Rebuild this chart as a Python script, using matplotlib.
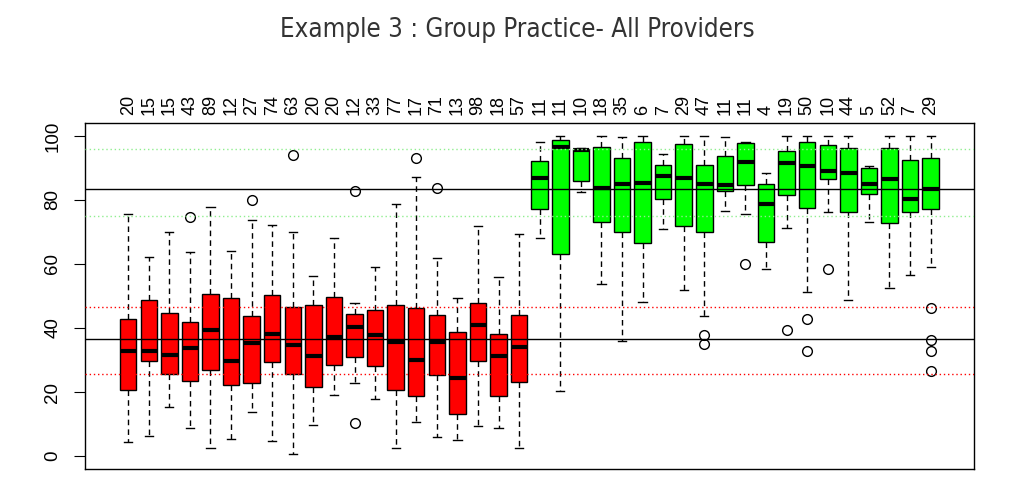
import matplotlib
matplotlib.use("Agg")
import matplotlib.pyplot as plt

# counts shown on top of each box
counts = [20, 15, 15, 43, 89, 12, 27, 74, 63, 20, 20, 12, 33, 77, 17, 71, 13, 98, 18, 57,
          11, 11, 10, 18, 35, 6, 7, 29, 47, 11, 11, 4, 19, 50, 10, 44, 5, 52, 7, 29]

# box stats (red group then green group)
whislo = [4.3, 6.4, 15.2, 8.7, 2.6, 5.5, 13.7, 4.7, 0.7, 9.7, 19.0, 23.0, 18.0, 2.6, 10.8, 6.1, 5.2, 9.3, 8.7, 2.6,
          68.0, 20.5, 82.6, 53.8, 35.9, 48.1, 71.0, 52.0, 43.8, 76.4, 75.6, 58.4, 71.3, 51.3, 76.3, 48.8, 73.2, 52.6, 56.7, 59.1]
q1 = [20.8, 29.6, 25.5, 23.6, 26.8, 22.3, 23.0, 29.4, 25.6, 21.5, 28.4, 30.9, 28.1, 20.8, 18.7, 25.3, 13.3, 29.7, 18.7, 23.1,
      77.1, 63.2, 85.9, 73.0, 69.9, 66.4, 80.4, 71.7, 69.9, 82.9, 84.6, 67.0, 81.6, 77.4, 86.4, 76.3, 81.9, 72.8, 76.1, 77.1]
med = [32.7, 32.7, 31.7, 33.7, 39.5, 29.8, 35.2, 38.1, 34.6, 31.3, 37.2, 40.4, 37.8, 35.5, 30.1, 35.5, 24.4, 40.9, 31.3, 34.1,
       86.8, 96.5, 95.6, 83.8, 85.0, 85.4, 87.4, 86.8, 85.0, 84.6, 91.8, 78.8, 91.4, 90.6, 89.0, 88.4, 85.0, 86.4, 80.4, 83.3]
q3 = [42.7, 48.8, 44.8, 41.9, 50.6, 49.4, 43.8, 50.2, 46.5, 47.3, 49.7, 44.5, 45.5, 47.3, 46.3, 44.1, 38.7, 47.7, 38.0, 44.1,
      92.2, 98.7, 96.0, 96.4, 93.2, 98.2, 90.9, 97.5, 90.9, 93.8, 97.9, 85.0, 95.3, 98.2, 97.1, 96.1, 90.0, 96.1, 92.5, 93.2]
whishi = [75.5, 62.3, 69.9, 63.8, 77.8, 64.1, 73.7, 72.3, 69.9, 56.2, 68.0, 47.7, 59.1, 78.7, 87.0, 61.9, 49.4, 71.7, 55.8, 69.5,
          98.2, 100, 96.3, 100, 99.6, 100, 94.2, 100, 100, 99.6, 98.1, 88.4, 100, 100, 100, 100, 90.7, 100, 100, 100]
fliers = [[], [], [], [74.6], [], [], [80.0], [], [93.9], [], [], [82.8, 10.4], [], [], [93.2], [83.6], [], [], [], [],
          [], [], [], [], [], [], [], [], [37.9, 35.1], [], [59.9], [], [39.4], [42.7, 32.9], [58.4], [], [], [], [], [46.2, 36.3, 32.9, 26.5]]
colors = ["#FF0000"] * 20 + ["#00FF00"] * 20

# reference lines
black_lines = [83.3, 36.5]
green_lines = [95.8, 75.0]
red_lines = [46.5, 25.5]

stats = []
for i in range(len(counts)):
    stats.append(dict(whislo=whislo[i], q1=q1[i], med=med[i], q3=q3[i],
                      whishi=whishi[i], fliers=fliers[i]))

fig = plt.figure(figsize=(10.24, 5.0), dpi=100)
ax = fig.add_axes([0.083, 0.062, 0.868, 0.692])

pos = list(range(1, len(counts) + 1))
bp = ax.bxp(stats, positions=pos, widths=0.8, patch_artist=True,
            boxprops=dict(edgecolor="black", linewidth=1),
            medianprops=dict(color="black", linewidth=3, solid_capstyle="butt"),
            whiskerprops=dict(color="black", linewidth=1, linestyle=(0, (4, 3))),
            capprops=dict(color="black", linewidth=1),
            capwidths=0.4,
            flierprops=dict(marker="o", markerfacecolor="none", markeredgecolor="black",
                            markersize=7, markeredgewidth=1))
for patch, c in zip(bp["boxes"], colors):
    patch.set_facecolor(c)

for y in green_lines:
    ax.axhline(y, color="#90EE90", linestyle=(0, (1, 2)), linewidth=1, zorder=5)
for y in red_lines:
    ax.axhline(y, color="#FF0000", linestyle=(0, (1, 2)), linewidth=1, zorder=5)
for y in black_lines:
    ax.axhline(y, color="black", linewidth=1, zorder=5)

ax.set_xlim(-1.1, 42.1)
ax.set_ylim(-4, 104)
ax.xaxis.tick_top()
ax.set_xticks(pos)
ax.set_xticklabels([str(c) for c in counts], rotation=90, fontsize=13,
                   family=["Liberation Sans", "DejaVu Sans"])
ax.tick_params(axis="x", length=0, pad=6)
ax.set_yticks([0, 20, 40, 60, 80, 100])
ax.set_yticklabels(["0", "20", "40", "60", "80", "100"], rotation=90, va="center",
                   fontsize=13.5, family=["Liberation Sans", "DejaVu Sans"])
ax.tick_params(axis="y", length=8, pad=9)
for s in ax.spines.values():
    s.set_linewidth(1)

fig.text(0.505, 0.94, "Example 3 : Group Practice- All Providers", ha="center", va="center",
         fontsize=18.5, color="#333333", family="DejaVu Sans", fontstretch="condensed")

fig.savefig("out.png", dpi=100)
